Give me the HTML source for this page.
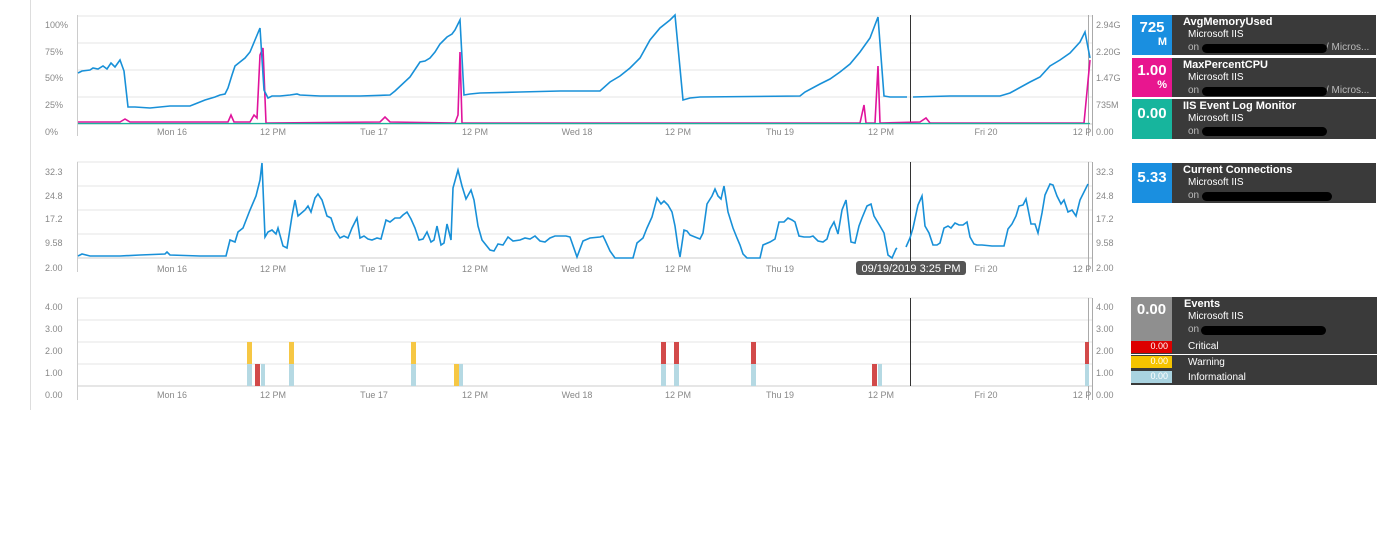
<!DOCTYPE html>
<html><head><meta charset="utf-8"><style>
body{margin:0;background:#fff;width:1389px;height:540px;overflow:hidden;font-family:"Liberation Sans",sans-serif}
svg{position:absolute;left:0;top:0}
.p{position:absolute;background:#3a3a3a;color:#fff;font-family:"Liberation Sans",sans-serif;overflow:hidden}
.b{position:absolute;left:0;top:0;width:40px;height:100%;text-align:center}
.b .v{font-size:15px;font-weight:bold;margin-top:4px}
.b .u{font-size:11px;font-weight:bold;text-align:right;padding-right:5px}
.t{position:absolute;left:51px;top:1px;font-size:11px;font-weight:bold}
.s{position:absolute;left:56px;top:14px;font-size:10px}
.o{position:absolute;left:56px;top:27px;font-size:10px;color:#bbb}
.r{position:absolute;height:9px;background:#000;border-radius:5px}
</style></head><body>
<svg width="1389" height="540" font-family="Liberation Sans, sans-serif" font-size="9" fill="#888">
<line x1="30.5" y1="0" x2="30.5" y2="410" stroke="#ddd"/>
<!-- chart1 -->
<g stroke="#e6e6e6"><line x1="77" y1="16" x2="1092" y2="16"/><line x1="77" y1="43" x2="1092" y2="43"/><line x1="77" y1="70" x2="1092" y2="70"/><line x1="77" y1="97" x2="1092" y2="97"/></g>
<line x1="77" y1="124" x2="1092" y2="124" stroke="#ccc"/>
<line x1="77.5" y1="15" x2="77.5" y2="136" stroke="#ccc"/>
<g stroke="#aaa"><line x1="1088.5" y1="15" x2="1088.5" y2="136"/><line x1="1092.5" y1="15" x2="1092.5" y2="136"/></g>
<line x1="910.5" y1="15" x2="910.5" y2="124" stroke="#333"/>
<polyline fill="none" stroke="#e0139c" stroke-width="1.6" points="78,122 120,122 125,119 130,122 228,122 231,115 234,122 250,122 254,115 257,118 260,55 263,48 266,123 380,122 385,117 390,122 455,123 458,115 460,52 462,123 860,123 864,105 866,123 875,123 878,66 880,123 920,122 926,118 930,123 1084,123 1090,60"/>
<line x1="78" y1="123.5" x2="1090" y2="123.5" stroke="#1ab39c" stroke-width="1.2"/>
<polyline fill="none" stroke="#1890d8" stroke-width="1.6" points="78,73 82,71 90,70 93,68 98,69 103,66 107,69 111,63 115,67 120,60 124,71 128,107 135,107 150,108 160,107 170,106 190,106 195,104 205,100 215,97 220,95 225,94 228,88 232,75 235,66 240,62 245,58 250,52 255,40 260,28 264,90 268,98 272,96 280,96 290,95 297,94 300,95 320,96 360,96 390,95 395,91 410,77 420,62 425,61 430,58 435,52 440,44 447,37 452,34 455,30 460,20 464,95 470,94 480,93 520,92 560,91 600,91 610,82 620,76 625,72 630,68 640,58 650,40 660,28 670,20 675,15 683,100 690,98 700,97 800,96 805,92 820,84 830,79 840,72 850,64 860,52 870,38 878,17 884,96 890,97 907,97"/>
<polyline fill="none" stroke="#1890d8" stroke-width="1.6" points="913,97 950,96 1000,96 1010,93 1030,82 1040,77 1050,66 1060,60 1070,53 1080,42 1085,32 1090,58"/>
<g><text x="45" y="28">100%</text><text x="45" y="55">75%</text><text x="45" y="81">50%</text><text x="45" y="108">25%</text><text x="45" y="135">0%</text>
<text x="1096" y="28">2.94G</text><text x="1096" y="55">2.20G</text><text x="1096" y="81">1.47G</text><text x="1096" y="108">735M</text><text x="1096" y="135">0.00</text></g>
<g text-anchor="middle"><text x="172" y="135">Mon 16</text><text x="273" y="135">12 PM</text><text x="374" y="135">Tue 17</text><text x="475" y="135">12 PM</text><text x="577" y="135">Wed 18</text><text x="678" y="135">12 PM</text><text x="780" y="135">Thu 19</text><text x="881" y="135">12 PM</text><text x="986" y="135">Fri 20</text><text x="1082" y="135">12 P</text></g>
<!-- chart2 -->
<g stroke="#e6e6e6"><line x1="77" y1="162" x2="1092" y2="162"/><line x1="77" y1="186" x2="1092" y2="186"/><line x1="77" y1="210" x2="1092" y2="210"/><line x1="77" y1="234" x2="1092" y2="234"/></g>
<line x1="77" y1="258" x2="1092" y2="258" stroke="#ccc"/>
<line x1="77.5" y1="162" x2="77.5" y2="272" stroke="#ccc"/>
<g stroke="#aaa"><line x1="1088.5" y1="162" x2="1088.5" y2="272"/><line x1="1092.5" y1="162" x2="1092.5" y2="272"/></g>
<line x1="910.5" y1="162" x2="910.5" y2="262" stroke="#333"/>
<polyline fill="none" stroke="#1890d8" stroke-width="1.6" points="78,256 82,254 90,256 100,256 120,256 140,255 165,254 167,252 170,255 200,256 226,256 230,240 235,242 238,232 243,228 250,210 256,196 260,180 262,163 265,237 268,232 272,230 276,234 278,228 283,246 287,248 292,216 295,200 298,216 305,210 308,206 311,212 315,198 318,194 322,200 327,216 331,218 335,230 340,238 344,236 348,238 352,228 357,218 360,238 364,236 368,239 372,240 377,238 381,239 386,220 390,222 395,218 400,218 403,215 407,212 411,219 415,228 419,240 423,239 427,232 431,242 434,240 437,226 441,245 444,243 447,224 451,240 453,188 458,170 462,186 466,199 471,190 474,200 478,226 482,240 490,250 494,251 498,244 503,245 508,237 513,241 520,240 525,238 530,239 535,236 540,241 545,242 550,238 555,236 566,236 570,237 577,257 583,241 590,238 600,237 603,236 605,240 610,251 615,258 633,258 637,243 643,238 647,228 652,217 657,198 661,204 664,201 668,205 672,212 675,226 678,247 680,257 684,230 687,231 690,235 695,237 700,239 703,233 707,204 712,196 715,189 718,196 721,199 724,186 728,212 733,228 737,238 740,245 743,254 747,258 760,258 763,245 770,242 775,239 779,222 784,222 788,218 792,220 795,222 799,236 804,237 810,237 813,236 818,241 823,242 827,239 830,229 834,222 838,234 842,210 846,200 851,242 855,243 859,226 862,218 867,206 871,204 874,216 880,226 884,233 888,255 892,258 896,249 897,248"/>
<polyline fill="none" stroke="#1890d8" stroke-width="1.6" points="906,247 910,238 913,228 918,205 922,196 925,226 929,233 933,245 937,245 940,243 944,228 948,226 951,228 955,223 959,225 963,225 967,222 970,237 974,244 977,245 982,245 992,246 1004,246 1008,229 1012,224 1016,216 1019,206 1023,205 1026,199 1031,224 1035,224 1038,233 1042,213 1045,195 1050,184 1053,185 1057,196 1061,204 1064,200 1068,212 1072,210 1076,216 1080,200 1085,190 1088,184"/>
<g><text x="45" y="175">32.3</text><text x="45" y="199">24.8</text><text x="45" y="222">17.2</text><text x="45" y="246">9.58</text><text x="45" y="271">2.00</text>
<text x="1096" y="175">32.3</text><text x="1096" y="199">24.8</text><text x="1096" y="222">17.2</text><text x="1096" y="246">9.58</text><text x="1096" y="271">2.00</text></g>
<g text-anchor="middle"><text x="172" y="272">Mon 16</text><text x="273" y="272">12 PM</text><text x="374" y="272">Tue 17</text><text x="475" y="272">12 PM</text><text x="577" y="272">Wed 18</text><text x="678" y="272">12 PM</text><text x="780" y="272">Thu 19</text><text x="986" y="272">Fri 20</text><text x="1082" y="272">12 P</text></g>
<rect x="856" y="261" width="110" height="14" rx="3" fill="#555"/>
<text x="911" y="272" text-anchor="middle" fill="#fff" font-size="11">09/19/2019 3:25 PM</text>
<!-- chart3 -->
<g stroke="#e6e6e6"><line x1="77" y1="298" x2="1092" y2="298"/><line x1="77" y1="320" x2="1092" y2="320"/><line x1="77" y1="342" x2="1092" y2="342"/><line x1="77" y1="364" x2="1092" y2="364"/></g>
<line x1="77" y1="386" x2="1092" y2="386" stroke="#ccc"/>
<line x1="77.5" y1="298" x2="77.5" y2="400" stroke="#ccc"/>
<g stroke="#aaa"><line x1="1088.5" y1="298" x2="1088.5" y2="400"/><line x1="1092.5" y1="298" x2="1092.5" y2="400"/></g>
<line x1="910.5" y1="298" x2="910.5" y2="386" stroke="#333"/>
<g>
<rect x="247" y="342" width="5" height="22" fill="#f6c744"/><rect x="247" y="364" width="5" height="22" fill="#b5d9e3"/>
<rect x="255" y="364" width="5" height="22" fill="#d24a4a"/><rect x="261" y="364" width="4" height="22" fill="#b5d9e3"/>
<rect x="289" y="342" width="5" height="22" fill="#f6c744"/><rect x="289" y="364" width="5" height="22" fill="#b5d9e3"/>
<rect x="411" y="342" width="5" height="22" fill="#f6c744"/><rect x="411" y="364" width="5" height="22" fill="#b5d9e3"/>
<rect x="454" y="364" width="5" height="22" fill="#f6c744"/><rect x="459" y="364" width="4" height="22" fill="#b5d9e3"/>
<rect x="661" y="342" width="5" height="22" fill="#d24a4a"/><rect x="661" y="364" width="5" height="22" fill="#b5d9e3"/>
<rect x="674" y="342" width="5" height="22" fill="#d24a4a"/><rect x="674" y="364" width="5" height="22" fill="#b5d9e3"/>
<rect x="751" y="342" width="5" height="22" fill="#d24a4a"/><rect x="751" y="364" width="5" height="22" fill="#b5d9e3"/>
<rect x="872" y="364" width="5" height="22" fill="#d24a4a"/><rect x="878" y="364" width="4" height="22" fill="#b5d9e3"/>
<rect x="1085" y="342" width="4" height="22" fill="#d24a4a"/><rect x="1085" y="364" width="4" height="22" fill="#b5d9e3"/>
</g>
<g><text x="45" y="310">4.00</text><text x="45" y="332">3.00</text><text x="45" y="354">2.00</text><text x="45" y="376">1.00</text><text x="45" y="398">0.00</text>
<text x="1096" y="310">4.00</text><text x="1096" y="332">3.00</text><text x="1096" y="354">2.00</text><text x="1096" y="376">1.00</text><text x="1096" y="398">0.00</text></g>
<g text-anchor="middle"><text x="172" y="398">Mon 16</text><text x="273" y="398">12 PM</text><text x="374" y="398">Tue 17</text><text x="475" y="398">12 PM</text><text x="577" y="398">Wed 18</text><text x="678" y="398">12 PM</text><text x="780" y="398">Thu 19</text><text x="881" y="398">12 PM</text><text x="986" y="398">Fri 20</text><text x="1082" y="398">12 P</text></g>
</svg>

<div class="p" style="left:1132px;top:15px;width:244px;height:40px"><div class="b" style="background:#1a8fe0"><div class="v">725</div><div class="u">M</div></div><div class="t">AvgMemoryUsed</div><div class="s">Microsoft IIS</div><div class="o">on <span style="position:absolute;left:138px;white-space:nowrap">/ Micros...</span></div><div class="r" style="left:70px;top:29px;width:125px"></div></div>
<div class="p" style="left:1132px;top:58px;width:244px;height:39px"><div class="b" style="background:#e8168f"><div class="v">1.00</div><div class="u">%</div></div><div class="t">MaxPercentCPU</div><div class="s">Microsoft IIS</div><div class="o">on <span style="position:absolute;left:138px;white-space:nowrap">/ Micros...</span></div><div class="r" style="left:70px;top:29px;width:125px"></div></div>
<div class="p" style="left:1132px;top:99px;width:244px;height:40px"><div class="b" style="background:#17b59d"><div class="v" style="margin-top:6px">0.00</div></div><div class="t">IIS Event Log Monitor</div><div class="s">Microsoft IIS</div><div class="o">on</div><div class="r" style="left:70px;top:28px;width:125px"></div></div>
<div class="p" style="left:1132px;top:163px;width:244px;height:40px"><div class="b" style="background:#1a8fe0"><div class="v" style="margin-top:6px">5.33</div></div><div class="t">Current Connections</div><div class="s">Microsoft IIS</div><div class="o">on</div><div class="r" style="left:70px;top:29px;width:130px"></div></div>
<div class="p" style="left:1131px;top:297px;width:246px;height:88px">
<div style="position:absolute;left:0;top:0;width:41px;height:44px;background:#8f8f8f;text-align:center;font-size:15px;font-weight:bold;padding-top:4px;box-sizing:border-box">0.00</div>
<div class="t" style="left:53px">Events</div><div class="s" style="left:57px">Microsoft IIS</div><div class="o" style="left:57px">on</div><div class="r" style="left:70px;top:29px;width:125px"></div>
<div style="position:absolute;left:0;top:44px;width:41px;height:12px;background:#d00;font-size:9px;text-align:right;padding-right:4px;box-sizing:border-box">0.00</div><div style="position:absolute;left:57px;top:44px;font-size:10px">Critical</div>
<div style="position:absolute;left:0;top:57px;width:246px;height:1px;background:#fff"></div>
<div style="position:absolute;left:0;top:59px;width:41px;height:12px;background:#f5c400;font-size:9px;text-align:right;padding-right:4px;box-sizing:border-box">0.00</div><div style="position:absolute;left:57px;top:60px;font-size:10px">Warning</div>
<div style="position:absolute;left:0;top:74px;width:41px;height:12px;background:#a9d3e0;font-size:9px;text-align:right;padding-right:4px;box-sizing:border-box">0.00</div><div style="position:absolute;left:57px;top:75px;font-size:10px">Informational</div>
</div>
</body></html>
